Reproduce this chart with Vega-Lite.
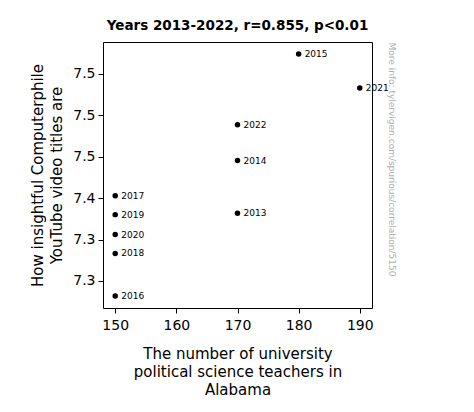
{
  "$schema": "https://vega.github.io/schema/vega-lite/v6.json",
  "autosize": "none",
  "padding": {"left": 103, "top": 42, "right": 102, "bottom": 104},
  "width": 269,
  "height": 266,
  "title": {"text": "Years 2013-2022, r=0.855, p<0.01", "font": "DejaVu Sans", "fontSize": 13.5, "fontWeight": "bold", "color": "black", "anchor": "middle", "offset": 10},
  "config": {
    "view": {"stroke": "black", "strokeWidth": 1},
    "font": "DejaVu Sans"
  },
  "data": {"values": [
    {"year": "2013", "teachers": 170, "insight": 7.3816},
    {"year": "2014", "teachers": 170, "insight": 7.4452},
    {"year": "2015", "teachers": 180, "insight": 7.5736},
    {"year": "2016", "teachers": 150, "insight": 7.282},
    {"year": "2017", "teachers": 150, "insight": 7.4028},
    {"year": "2018", "teachers": 150, "insight": 7.3332},
    {"year": "2019", "teachers": 150, "insight": 7.38},
    {"year": "2020", "teachers": 150, "insight": 7.356},
    {"year": "2021", "teachers": 190, "insight": 7.5328},
    {"year": "2022", "teachers": 170, "insight": 7.4884}
  ]},
  "encoding": {
    "x": {"field": "teachers", "type": "quantitative",
      "scale": {"domain": [148, 192], "nice": false, "zero": false},
      "axis": {"values": [150, 160, 170, 180, 190], "grid": false, "domain": false, "tickColor": "black", "tickSize": 5, "labelFontSize": 14, "labelColor": "black", "labelPadding": 5,
        "title": ["The number of university", "political science teachers in", "Alabama"], "titleFontSize": 15, "titleFontWeight": "normal", "titleColor": "black", "titlePadding": 14, "titleLineHeight": 18}},
    "y": {"field": "insight", "type": "quantitative",
      "scale": {"domain": [7.2674, 7.5882], "nice": false, "zero": false}}
  },
  "layer": [
    {"mark": {"type": "point", "filled": true, "color": "black", "opacity": 1, "size": 30},
      "encoding": {"y": {"field": "insight", "type": "quantitative",
        "axis": {"values": [7.3, 7.35, 7.4, 7.45, 7.5, 7.55], "format": ".1f", "grid": false, "domain": false, "tickColor": "black", "tickSize": 5, "labelFontSize": 14, "labelColor": "black", "labelPadding": 3,
          "title": ["How insightful Computerphile", "YouTube video titles are"], "titleFontSize": 15, "titleFontWeight": "normal", "titleColor": "black", "titlePadding": 8, "titleLineHeight": 19}}}},
    {"mark": {"type": "text", "align": "left", "baseline": "middle", "dx": 6, "fontSize": 9, "color": "black"},
      "encoding": {"text": {"field": "year"},
        "y": {"field": "insight", "type": "quantitative",
          "axis": {"orient": "right", "labels": false, "ticks": false, "domain": false, "grid": false,
            "title": "More info: tylervigen.com/spurious/correlation/5150", "titleFontSize": 9, "titleFontWeight": "normal", "titleColor": "#b0b0b0", "titleAngle": 90, "titleAnchor": "end", "titleAlign": "left", "titlePadding": 14}}}}
  ],
  "resolve": {"axis": {"y": "independent"}}
}
